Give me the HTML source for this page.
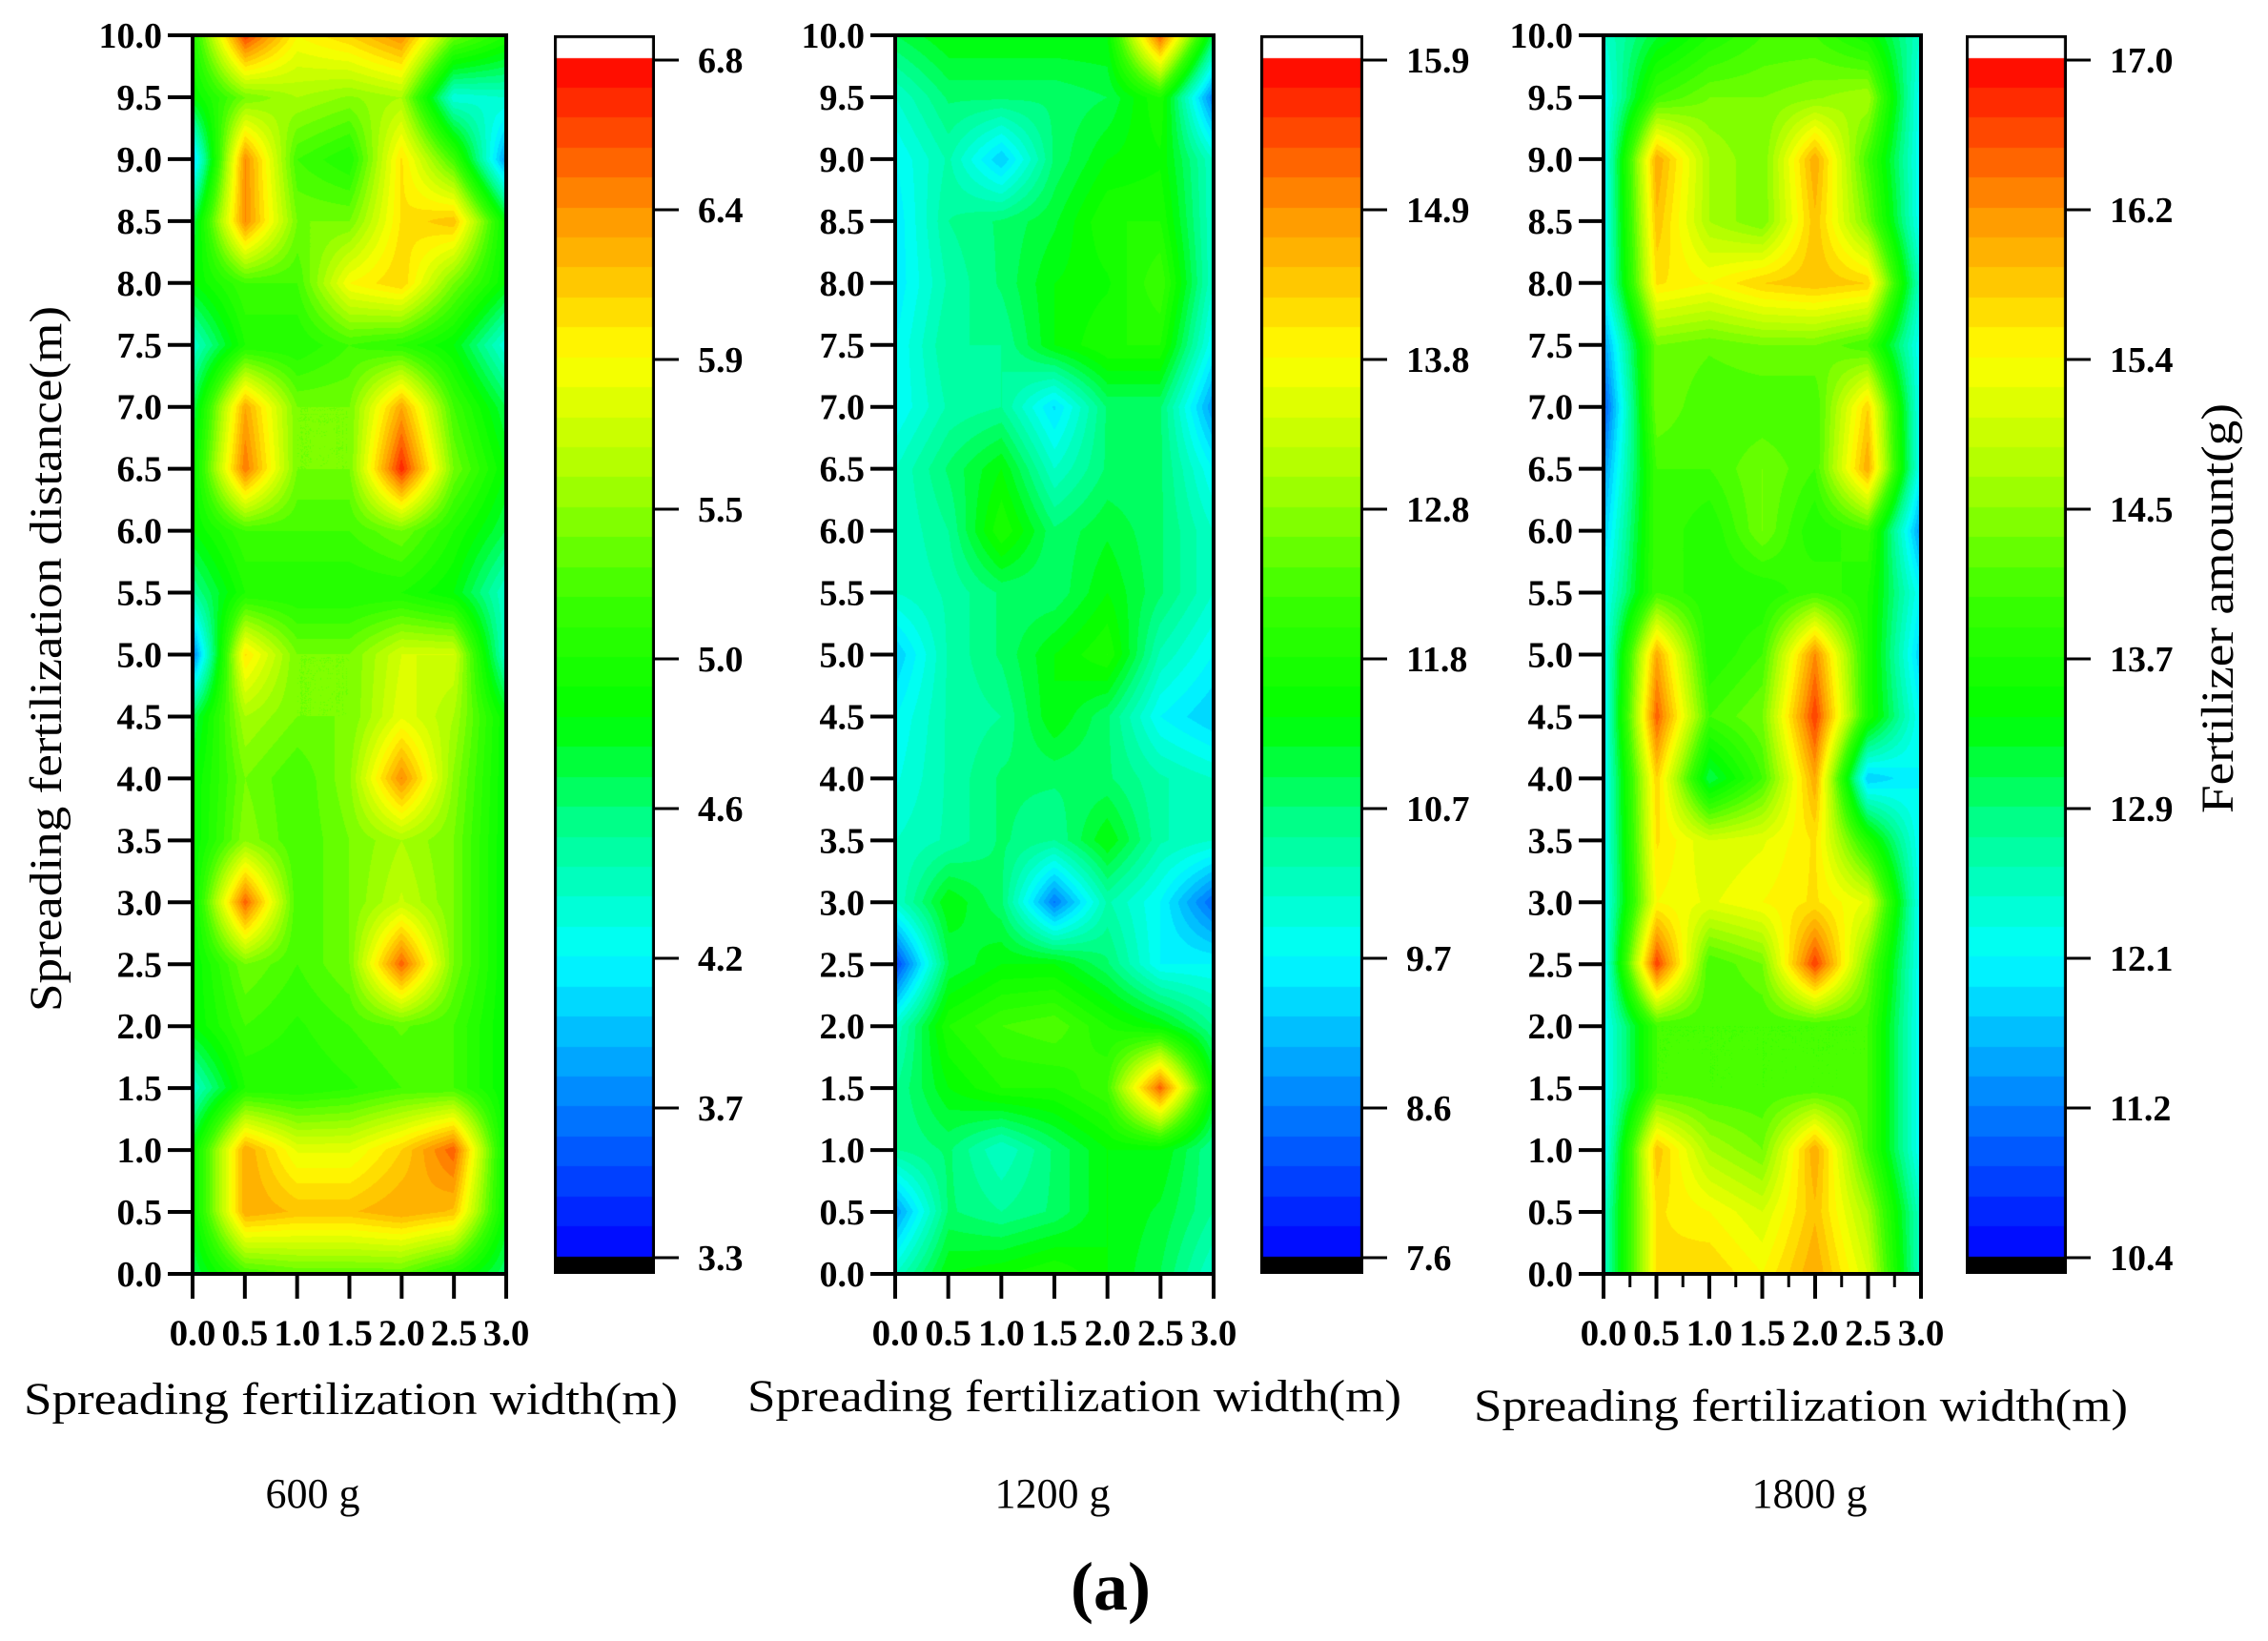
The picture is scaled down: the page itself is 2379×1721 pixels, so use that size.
<!DOCTYPE html>
<html><head><meta charset="utf-8"><style>
html,body{margin:0;padding:0;background:#fff;}
#wrap{position:relative;width:2379px;height:1721px;overflow:hidden;background:#fff;}
canvas{position:absolute;}
svg{position:absolute;left:0;top:0;}
svg text{font-family:"Liberation Serif",serif;}
</style></head><body><div id="wrap">
<canvas id="p0" style="left:202px;top:37px" width="329" height="1299"></canvas>
<canvas id="p1" style="left:939px;top:37px" width="334" height="1299"></canvas>
<canvas id="p2" style="left:1682px;top:37px" width="333" height="1299"></canvas>
<canvas id="c0" style="left:581px;top:37px" width="106" height="1299"></canvas>
<canvas id="c1" style="left:1322px;top:37px" width="108" height="1299"></canvas>
<canvas id="c2" style="left:2062px;top:37px" width="106" height="1299"></canvas>
<svg id="s" width="2379" height="1721" xmlns="http://www.w3.org/2000/svg"></svg>
</div>
<script>
(function(){
var D=[
[[.5,.95,.75,.8,.88,.6,.5],[.45,.6,.65,.62,.65,.28,.3],[.2,.88,.55,.5,.78,.55,.15],[.4,.88,.6,.6,.78,.82,.45],[.45,.55,.55,.75,.8,.6,.45],[.3,.5,.5,.55,.52,.45,.28],[.4,.85,.6,.6,.85,.55,.4],[.45,.9,.6,.6,.97,.6,.45],[.45,.55,.55,.55,.6,.5,.4],[.35,.5,.5,.5,.5,.45,.3],[.12,.78,.6,.6,.7,.7,.3],[.4,.65,.6,.6,.72,.65,.45],[.45,.6,.55,.62,.88,.62,.45],[.45,.62,.55,.6,.65,.6,.45],[.45,.92,.55,.6,.68,.6,.45],[.45,.6,.55,.6,.92,.6,.45],[.45,.55,.52,.55,.58,.55,.45],[.3,.5,.5,.52,.55,.55,.45],[.45,.85,.72,.72,.8,.92,.45],[.45,.85,.82,.82,.85,.82,.45],[.4,.55,.58,.58,.58,.5,.38]],
[[.4,.45,.45,.45,.45,.92,.4],[.3,.38,.38,.38,.4,.5,.12],[.25,.33,.2,.38,.45,.47,.3],[.23,.35,.38,.42,.5,.5,.3],[.23,.33,.38,.45,.47,.55,.3],[.25,.35,.35,.45,.5,.5,.25],[.25,.33,.35,.22,.38,.38,.15],[.3,.38,.45,.3,.38,.38,.25],[.3,.35,.5,.38,.42,.38,.3],[.3,.33,.38,.38,.45,.38,.3],[.2,.33,.38,.45,.5,.32,.25],[.25,.33,.35,.45,.38,.25,.2],[.27,.33,.38,.38,.38,.33,.3],[.3,.33,.38,.35,.45,.33,.3],[.3,.45,.38,.12,.33,.25,.1],[.06,.4,.45,.45,.38,.25,.25],[.3,.5,.55,.57,.5,.45,.35],[.35,.45,.5,.5,.55,.92,.45],[.35,.38,.3,.38,.45,.45,.35],[.15,.38,.35,.38,.45,.42,.35],[.3,.45,.47,.5,.45,.4,.3]],
[[.3,.42,.5,.55,.55,.48,.3],[.25,.55,.6,.6,.62,.65,.25],[.25,.85,.65,.6,.85,.55,.25],[.25,.82,.65,.6,.82,.6,.25],[.25,.78,.75,.8,.82,.8,.3],[.15,.6,.58,.6,.6,.55,.25],[.08,.6,.55,.55,.55,.8,.25],[.15,.55,.55,.6,.55,.85,.25],[.2,.55,.5,.6,.5,.55,.15],[.25,.55,.5,.5,.55,.5,.25],[.25,.85,.5,.55,.88,.5,.2],[.25,.92,.55,.6,.95,.5,.25],[.25,.8,.4,.55,.85,.2,.25],[.25,.78,.7,.72,.78,.5,.25],[.25,.75,.72,.75,.78,.72,.25],[.25,.95,.55,.6,.95,.6,.25],[.25,.55,.55,.55,.55,.55,.25],[.25,.55,.55,.55,.55,.55,.25],[.25,.82,.65,.6,.85,.55,.25],[.3,.78,.75,.7,.82,.65,.3],[.3,.78,.8,.75,.85,.7,.3]]];
var ST=[[0,0,0,255],[.25,0,255,255],[.36,0,255,140],[.45,0,255,0],[.55,60,255,0],[.65,170,255,0],[.75,255,255,0],[.87,255,150,0],[1,255,0,0]];
function cm(v){v=Math.max(0,Math.min(.999,v));v=(Math.floor(v*40)+.5)/40;
for(var i=1;i<ST.length;i++){if(v<=ST[i][0]){var a=ST[i-1],b=ST[i],t=(v-a[0])/(b[0]-a[0]);return [Math.round(a[1]+(b[1]-a[1])*t),Math.round(a[2]+(b[2]-a[2])*t),Math.round(a[3]+(b[3]-a[3])*t)];}}return [255,0,0];}
for(var p=0;p<3;p++){var c=document.getElementById('p'+p),W=c.width,H=c.height,x=c.getContext('2d'),im=x.createImageData(W,H),g=D[p];
for(var j=0;j<H;j++){var fy=j/(H-1)*20,r=Math.min(19,Math.floor(fy)),ty=fy-r;
for(var i=0;i<W;i++){var fx=i/(W-1)*6,q=Math.min(5,Math.floor(fx)),tx=fx-q;
var v=g[r][q]*(1-tx)*(1-ty)+g[r][q+1]*tx*(1-ty)+g[r+1][q]*(1-tx)*ty+g[r+1][q+1]*tx*ty;
var col=cm(v),k=(j*W+i)*4;im.data[k]=col[0];im.data[k+1]=col[1];im.data[k+2]=col[2];im.data[k+3]=255;}}
x.putImageData(im,0,0);}
for(var p=0;p<3;p++){var c=document.getElementById('c'+p),W=c.width,x=c.getContext('2d');
x.fillStyle='#fff';x.fillRect(0,0,W,24);var t0=24,b0=1281,n=40;
for(var k=0;k<n;k++){var col=cm((n-1-k+.5)/n);x.fillStyle='rgb('+col[0]+','+col[1]+','+col[2]+')';x.fillRect(0,Math.floor(t0+(b0-t0)*k/n),W,Math.ceil((b0-t0)/n)+1);}
x.fillStyle='#000';x.fillRect(0,b0,W,1299-b0);x.strokeStyle='#000';x.lineWidth=3;x.strokeRect(1.5,1.5,W-3,1296);}
var s='';
var PX=[[202,531,581,687],[939,1273,1322,1430],[1682,2015,2062,2168]];
var CB=[["6.8","6.4","5.9","5.5","5.0","4.6","4.2","3.7","3.3"],["15.9","14.9","13.8","12.8","11.8","10.7","9.7","8.6","7.6"],["17.0","16.2","15.4","14.5","13.7","12.9","12.1","11.2","10.4"]];
for(var p=0;p<3;p++){var L=PX[p][0],R=PX[p][1];
s+='<rect x="'+L+'" y="37" width="'+(R-L)+'" height="1299" fill="none" stroke="#000" stroke-width="4"/>';
for(var k=0;k<=20;k++){var y=1336-k*64.95;s+='<line x1="'+(L-26)+'" y1="'+y+'" x2="'+L+'" y2="'+y+'" stroke="#000" stroke-width="4"/>';
s+='<text x="'+(L-32)+'" y="'+(y+13)+'" text-anchor="end" font-size="38" font-weight="bold">'+(k/2).toFixed(1)+'</text>';}
for(var k=0;k<=6;k++){var xx=L+(R-L)*k/6;s+='<line x1="'+xx+'" y1="1336" x2="'+xx+'" y2="1362" stroke="#000" stroke-width="4"/>';
s+='<text x="'+xx+'" y="1411" text-anchor="middle" font-size="39" font-weight="bold">'+(k/2).toFixed(1)+'</text>';
if(p==2&&k<6){s+='<line x1="'+(xx+(R-L)/12)+'" y1="1336" x2="'+(xx+(R-L)/12)+'" y2="1350" stroke="#000" stroke-width="3"/>';}}
var cr=PX[p][3];for(var k=0;k<9;k++){var y=63+157*k;s+='<line x1="'+cr+'" y1="'+y+'" x2="'+(cr+25)+'" y2="'+y+'" stroke="#000" stroke-width="3"/>';
s+='<text x="'+(cr+45)+'" y="'+(y+13)+'" font-size="38" font-weight="bold">'+CB[p][k]+'</text>';}}
var TX=[[368,1483],[1127,1480],[1889,1490]],TT=[[328,"600 g"],[1104,"1200 g"],[1898,"1800 g"]];
for(var p=0;p<3;p++){s+='<text x="'+TX[p][0]+'" y="'+TX[p][1]+'" text-anchor="middle" font-size="48" textLength="686" lengthAdjust="spacingAndGlyphs">Spreading fertilization width(m)</text>';
s+='<text x="'+TT[p][0]+'" y="1581" text-anchor="middle" font-size="44">'+TT[p][1]+'</text>';}
s+='<text transform="translate(64,691) rotate(-90)" text-anchor="middle" font-size="48" textLength="740" lengthAdjust="spacingAndGlyphs">Spreading fertilization distance(m)</text>';
s+='<text transform="translate(2342,638) rotate(-90)" text-anchor="middle" font-size="48" textLength="430" lengthAdjust="spacingAndGlyphs">Fertilizer amount(g)</text>';
s+='<text x="1165" y="1688" text-anchor="middle" font-size="72" font-weight="bold">(a)</text>';
document.getElementById('s').innerHTML=s;
})();
</script></body></html>
